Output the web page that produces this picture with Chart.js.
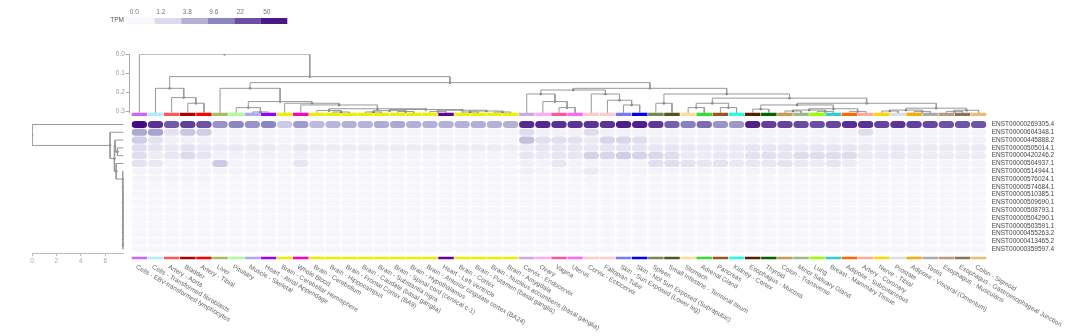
<!DOCTYPE html>
<html>
<head>
<meta charset="utf-8">
<script src="https://cdn.jsdelivr.net/npm/chart.js@4.4.1/dist/chart.umd.min.js"></script>
<style>
  html, body { margin: 0; padding: 0; background: #fff; }
  #wrap { position: relative; width: 1080px; height: 336px; overflow: hidden; }
  canvas { position: absolute; left: 0; top: 0; }
</style>
</head>
<body>
<div id="wrap">
  <canvas id="heat" width="1080" height="336"></canvas>
  <canvas id="colTree" width="1080" height="336"></canvas>
  <canvas id="rowTree" width="1080" height="336"></canvas>
</div>
<script>
// ---- DATA ----
const tissues = [
  'Cells - EBV-transformed lymphocytes', 'Cells - Transformed fibroblasts', 'Artery - Aorta', 'Bladder',
  'Artery - Tibial', 'Liver', 'Pituitary', 'Muscle - Skeletal', 'Heart - Atrial Appendage',
  'Brain - Cerebellar Hemisphere', 'Whole Blood', 'Brain - Cerebellum', 'Brain - Hippocampus',
  'Brain - Frontal Cortex (BA9)', 'Brain - Caudate (basal ganglia)', 'Brain - Substantia nigra',
  'Brain - Spinal cord (cervical c-1)', 'Brain - Hypothalamus', 'Brain - Anterior cingulate cortex (BA24)',
  'Heart - Left Ventricle', 'Brain - Cortex', 'Brain - Putamen (basal ganglia)',
  'Brain - Nucleus accumbens (basal ganglia)', 'Brain - Amygdala', 'Cervix - Endocervix', 'Ovary',
  'Vagina', 'Uterus', 'Cervix - Ectocervix', 'Fallopian Tube', 'Skin - Sun Exposed (Lower leg)',
  'Skin - Not Sun Exposed (Suprapubic)', 'Spleen', 'Small Intestine - Terminal Ileum', 'Stomach',
  'Adrenal Gland', 'Pancreas', 'Kidney - Cortex', 'Esophagus - Mucosa', 'Thyroid', 'Colon - Transverse',
  'Minor Salivary Gland', 'Lung', 'Breast - Mammary Tissue', 'Adipose - Subcutaneous', 'Artery - Coronary',
  'Nerve - Tibial', 'Prostate', 'Adipose - Visceral (Omentum)', 'Testis', 'Esophagus - Muscularis',
  'Esophagus - Gastroesophageal Junction', 'Colon - Sigmoid'
];

const tissueColors = [
  '#CC66FF', '#AAEEFF', '#FF5555', '#AA0000', '#FF0000', '#AABB66', '#AAFF99', '#AAAAFF', '#9900FF',
  '#EEEE00', '#FF00BB', '#EEEE00', '#EEEE00', '#EEEE00', '#EEEE00', '#EEEE00', '#EEEE00', '#EEEE00',
  '#EEEE00', '#660099', '#EEEE00', '#EEEE00', '#EEEE00', '#EEEE00', '#CCAADD', '#FFAAFF', '#FF5599',
  '#FF66FF', '#FFCCCC', '#FFCCCC', '#7777FF', '#0000FF', '#778855', '#555522', '#FFDD99', '#33DD33',
  '#995522', '#22FFDD', '#552200', '#006600', '#CC9955', '#99BB88', '#99FF00', '#33CCCC', '#FF6600',
  '#FFAA99', '#FFD700', '#DDDDDD', '#FFAA00', '#AAAAAA', '#BB9988', '#8B7355', '#EEBB77'
];

const transcripts = [
  'ENST00000269305.4', 'ENST00000604348.1', 'ENST00000445888.2', 'ENST00000505014.1',
  'ENST00000420246.2', 'ENST00000504937.1', 'ENST00000514944.1', 'ENST00000576024.1',
  'ENST00000574684.1', 'ENST00000510385.1', 'ENST00000509690.1', 'ENST00000508793.1',
  'ENST00000504290.1', 'ENST00000503591.1', 'ENST00000455263.2', 'ENST00000413465.2',
  'ENST00000359597.4'
];

// TPM per transcript, in tissue order
const tpm269305 = [70, 35, 18, 28, 21, 7, 9, 7, 9, 2.0,  6, 3.0, 3.4, 3.8, 3.6, 4.2, 4.5, 3.8, 3.8, 3.8,
  3.8, 4.0, 3.8, 3.8, 38, 40, 35, 33, 33, 33,  45, 45, 30, 17, 10, 14, 7, 6.5, 45, 28,
  26, 23, 22, 25, 36, 34, 26, 33, 27, 24,  21, 20, 20];
const tpm604348 = [4.5, 5, 0.8, 2.2, 1.8, 0.1, 0.1, 0.1, 0.1, 0.05,  0.15, 0.05, 0.05, 0.05, 0.05, 0.05, 0.05, 0.05, 0.05, 0.05,
  0.05, 0.05, 0.05, 0.05, 1.0, 0.2, 0.15, 0.15, 1.0, 0.2,  0.15, 0.15, 0.1, 0.1, 0.1, 0.1, 0.05, 0.05, 0.1, 0.1,
  0.1, 0.1, 0.1, 0.1, 0.2, 1.0, 0.1, 0.1, 0.1, 0.1,  0.1, 0.1, 0.1];
const tpm445888 = [1.8, 0.8, 0.2, 0.2, 0.2, 0.1, 0.1, 0.1, 0.1, 0.05,  0.1, 0.05, 0.05, 0.05, 0.05, 0.05, 0.05, 0.05, 0.05, 0.05,
  0.05, 0.05, 0.05, 0.05, 2.6, 0.9, 0.9, 0.8, 0.4, 1.4,  1.4, 1.0, 0.2, 0.2, 0.15, 0.15, 0.1, 0.1, 0.15, 0.15,
  0.15, 0.15, 0.15, 0.15, 0.15, 0.15, 0.15, 0.15, 0.15, 0.15,  0.15, 0.15, 0.15];
const tpm505014 = [1.0, 0.7, 0.5, 0.8, 0.5, 0.4, 0.5, 0.4, 0.4, 0.2,  0.6, 0.3, 0.3, 0.3, 0.3, 0.3, 0.35, 0.3, 0.3, 0.3,
  0.3, 0.3, 0.3, 0.3, 0.4, 0.6, 0.6, 0.6, 0.5, 0.6,  0.7, 0.7, 0.6, 0.6, 0.5, 0.4, 0.4, 0.4, 0.6, 0.6,
  0.6, 0.5, 0.6, 0.6, 0.6, 0.5, 0.4, 0.5, 0.4, 0.4,  0.4, 0.4, 0.4];
const tpm420246 = [1.0, 0.3, 0.6, 1.2, 0.7, 0.15, 0.15, 0.15, 0.15, 0.1,  0.2, 0.1, 0.1, 0.1, 0.1, 0.1, 0.1, 0.1, 0.1, 0.1,
  0.1, 0.1, 0.1, 0.1, 0.6, 0.4, 0.6, 0.6, 1.6, 1.4,  1.8, 1.5, 1.3, 1.0, 0.4, 0.3, 0.5, 0.4, 0.8, 0.9,
  0.7, 1.1, 1.0, 1.0, 1.0, 0.4, 0.4, 0.5, 0.3, 0.3,  0.3, 0.3, 0.3];
const tpm504937 = [0.8, 0.5, 0.1, 0.1, 0.1, 2.0, 0.1, 0.1, 0.1, 0.05,  0.6, 0.05, 0.05, 0.05, 0.05, 0.05, 0.05, 0.05, 0.05, 0.05,
  0.05, 0.05, 0.05, 0.05, 0.2, 0.1, 0.6, 0.1, 0.1, 0.1,  0.1, 0.1, 0.9, 1.0, 0.8, 0.6, 0.8, 0.5, 0.6, 0.6,
  0.7, 0.5, 0.4, 0.7, 0.4, 0.1, 0.1, 0.1, 0.1, 0.1,  0.1, 0.1, 0.1];
const tpm514944 = [0.1, 0.08, 0.08, 0.08, 0.08, 0.08, 0.08, 0.08, 0.08, 0.05,  0.08, 0.05, 0.05, 0.05, 0.05, 0.05, 0.05, 0.05, 0.05, 0.05,
  0.05, 0.05, 0.05, 0.05, 0.2, 0.08, 0.08, 0.08, 0.4, 0.1,  0.1, 0.1, 0.08, 0.08, 0.08, 0.08, 0.05, 0.05, 0.08, 0.08,
  0.08, 0.08, 0.08, 0.08, 0.08, 0.08, 0.08, 0.08, 0.08, 0.08,  0.08, 0.08, 0.08];
const tpm576024 = [0.05, 0.05, 0.05, 0.05, 0.05, 0, 0, 0, 0, 0,  0, 0, 0, 0, 0, 0, 0, 0, 0, 0,
  0, 0, 0, 0, 0.05, 0, 0, 0, 0.05, 0,  0, 0, 0, 0, 0, 0, 0, 0, 0, 0,
  0, 0, 0, 0, 0, 0, 0, 0, 0, 0,  0, 0, 0];
const tpm574684 = [0.05, 0, 0, 0, 0, 0, 0, 0, 0, 0,  0, 0, 0, 0, 0, 0, 0, 0, 0, 0,
  0, 0, 0, 0, 0, 0, 0, 0, 0, 0,  0, 0, 0, 0, 0, 0, 0, 0, 0, 0,
  0, 0, 0, 0, 0, 0, 0, 0, 0, 0,  0, 0, 0];
const tpm510385 = [0, 0, 0, 0, 0, 0, 0, 0, 0, 0,  0, 0, 0, 0, 0, 0, 0, 0, 0, 0,
  0, 0, 0, 0, 0, 0, 0, 0, 0, 0,  0, 0, 0, 0, 0, 0, 0, 0, 0, 0,
  0, 0, 0, 0, 0, 0, 0, 0, 0, 0,  0, 0, 0];
const tpm509690 = [0, 0, 0, 0, 0, 0, 0, 0, 0, 0,  0, 0, 0, 0, 0, 0, 0, 0, 0, 0,
  0, 0, 0, 0, 0, 0, 0, 0, 0, 0,  0, 0, 0, 0, 0, 0, 0, 0, 0, 0,
  0, 0, 0, 0, 0, 0, 0, 0, 0, 0,  0, 0, 0];
const tpm508793 = [0, 0, 0, 0, 0, 0, 0, 0, 0, 0,  0, 0, 0, 0, 0, 0, 0, 0, 0, 0,
  0, 0, 0, 0, 0, 0, 0, 0, 0, 0,  0, 0, 0, 0, 0, 0, 0, 0, 0, 0,
  0, 0, 0, 0, 0, 0, 0, 0, 0, 0,  0, 0, 0];
const tpm504290 = [0, 0, 0, 0, 0, 0, 0, 0, 0, 0,  0, 0, 0, 0, 0, 0, 0, 0, 0, 0,
  0, 0, 0, 0, 0, 0, 0, 0, 0, 0,  0, 0, 0, 0, 0, 0, 0, 0, 0, 0,
  0, 0, 0, 0, 0, 0, 0, 0, 0, 0,  0, 0, 0];
const tpm503591 = [0, 0, 0, 0, 0, 0, 0, 0, 0, 0,  0, 0, 0, 0, 0, 0, 0, 0, 0, 0,
  0, 0, 0, 0, 0, 0, 0, 0, 0, 0,  0, 0, 0, 0, 0, 0, 0, 0, 0, 0,
  0, 0, 0, 0, 0, 0, 0, 0, 0, 0,  0, 0, 0];
const tpm455263 = [0, 0, 0, 0, 0, 0, 0, 0, 0, 0,  0, 0, 0, 0, 0, 0, 0, 0, 0, 0,
  0, 0, 0, 0, 0, 0, 0, 0, 0, 0,  0, 0, 0, 0, 0, 0, 0, 0, 0, 0,
  0, 0, 0, 0, 0, 0, 0, 0, 0, 0,  0, 0, 0];
const tpm413465 = [0, 0, 0, 0, 0, 0, 0, 0, 0, 0,  0, 0, 0, 0, 0, 0, 0, 0, 0, 0,
  0, 0, 0, 0, 0, 0, 0, 0, 0, 0,  0, 0, 0, 0, 0, 0, 0, 0, 0, 0,
  0, 0, 0, 0, 0, 0, 0, 0, 0, 0,  0, 0, 0];
const tpm359597 = [0, 0, 0, 0, 0, 0, 0, 0, 0, 0,  0, 0, 0, 0, 0, 0, 0, 0, 0, 0,
  0, 0, 0, 0, 0, 0, 0, 0, 0, 0,  0, 0, 0, 0, 0, 0, 0, 0, 0, 0,
  0, 0, 0, 0, 0, 0, 0, 0, 0, 0,  0, 0, 0];

const rowValues = [tpm269305, tpm604348, tpm445888, tpm505014, tpm420246, tpm504937, tpm514944,
  tpm576024, tpm574684, tpm510385, tpm509690, tpm508793, tpm504290, tpm503591, tpm455263,
  tpm413465, tpm359597];

// colour scale (TPM)
const legendBreaks = [0.0, 1.2, 3.8, 9.6, 22, 50];
const stopValues = [0, 1.2, 3.8, 9.6, 22, 50, 100];
const stopColors = ['#f7f6fb', '#dcdbed', '#b3b1d6', '#8a84bf', '#6a4fa2', '#4b1887', '#3f007d'];

// column dendrogram: [childA, childB, height]; ids >= 53 are earlier merges
const colMerges = [
  [3, 4, 0.259], [2, 53, 0.229], [1, 54, 0.18],
  [7, 8, 0.305], [6, 56, 0.282],
  [12, 13, 0.305], [11, 58, 0.297], [14, 15, 0.305], [16, 17, 0.303], [60, 61, 0.298],
  [18, 19, 0.302], [20, 21, 0.305], [22, 23, 0.305], [64, 65, 0.3], [63, 66, 0.296],
  [62, 67, 0.292], [59, 68, 0.288], [10, 69, 0.268], [9, 70, 0.259], [57, 71, 0.25],
  [5, 72, 0.18],
  [26, 27, 0.282], [25, 74, 0.25], [24, 75, 0.21], [30, 31, 0.268], [29, 77, 0.243],
  [28, 78, 0.21], [76, 79, 0.189],
  [32, 33, 0.259], [34, 35, 0.282], [36, 37, 0.282], [82, 83, 0.259], [38, 39, 0.29],
  [40, 41, 0.3], [42, 43, 0.302], [86, 87, 0.295], [44, 45, 0.302], [88, 89, 0.288],
  [85, 90, 0.268], [46, 47, 0.3], [48, 49, 0.302], [92, 93, 0.295], [50, 51, 0.302],
  [95, 52, 0.296], [94, 96, 0.285], [91, 97, 0.259], [84, 98, 0.232], [81, 99, 0.21],
  [80, 100, 0.18], [73, 101, 0.15], [55, 102, 0.118], [0, 103, 0.0]
];
const colLeafHeight = 0.31;
const colTreeTicks = [0.0, 0.1, 0.2, 0.3];

// row dendrogram: ids >= 17 are earlier merges
const rowMerges = [
  [15, 16, 7.46], [14, 17, 7.46], [13, 18, 7.46], [12, 19, 7.46], [11, 20, 7.46],
  [10, 21, 7.46], [9, 22, 7.46], [8, 23, 7.46], [7, 24, 7.45], [6, 25, 7.45],
  [5, 26, 6.9], [3, 4, 7.0], [2, 28, 6.8], [29, 27, 6.75], [1, 30, 6.4], [0, 31, 0.0]
];
const rowLeafDist = 7.5;
const rowTreeTicks = [0, 2, 4, 6];

// ---- LAYOUT ----
const W = 1080, H = 336;
const HEAT_LEFT = 131.3, HEAT_RIGHT = 986.7;
const HEAT_TOP = 112.0, HEAT_BOTTOM = 260.2;   // y range -1.6 .. 17.4 (row units)
const Y_MIN = -1.6, Y_MAX = 17.4;
const ROW_PX = (HEAT_BOTTOM - HEAT_TOP) / (Y_MAX - Y_MIN);
const COL_PX = (HEAT_RIGHT - HEAT_LEFT) / tissues.length;
const FONT = '"Liberation Sans", Arial, sans-serif';
const FS = 6.5;

Chart.defaults.font.family = FONT;
Chart.defaults.font.size = FS;

// ---- HELPERS ----
function hexRgb(h) {
  const n = parseInt(h.slice(1), 16);
  return [(n >> 16) & 255, (n >> 8) & 255, n & 255];
}
function tpmColor(v) {
  const t = Math.log1p(v);
  let i = 0;
  while (i < stopValues.length - 2 && t > Math.log1p(stopValues[i + 1])) i++;
  const a = Math.log1p(stopValues[i]), b = Math.log1p(stopValues[i + 1]);
  const f = Math.min(1, Math.max(0, (t - a) / (b - a)));
  const c0 = hexRgb(stopColors[i]), c1 = hexRgb(stopColors[i + 1]);
  const c = c0.map((c, k) => Math.round(c + (c1[k] - c) * f));
  return `rgb(${c[0]},${c[1]},${c[2]})`;
}

function buildTree(merges, nLeaves, leafH, horizontal) {
  const pos = [], hgt = [];
  for (let i = 0; i < nLeaves; i++) { pos[i] = i; hgt[i] = leafH; }
  const lines = [], nodes = [];
  const pt = (p, v) => horizontal ? { x: v, y: p } : { x: p, y: v };
  merges.forEach(([a, b, h], k) => {
    const id = nLeaves + k;
    pos[id] = (pos[a] + pos[b]) / 2;
    hgt[id] = h;
    lines.push(pt(pos[a], hgt[a]), pt(pos[a], h), pt(pos[b], h), pt(pos[b], hgt[b]), { x: NaN, y: NaN });
    nodes.push(pt(pos[id], h));
  });
  return { lines, nodes };
}

// ---- HEATMAP ----
const CELL_HALF = 0.46;
const heatSets = rowValues.map((vals, r) => ({
  data: vals.map(() => [r - CELL_HALF, r + CELL_HALF]),
  backgroundColor: vals.map(tpmColor),
  borderRadius: 3.6,
  borderSkipped: false,
  grouped: false,
  barPercentage: 0.95,
  categoryPercentage: 1
}));
// tissue colour strips above and below
heatSets.push({
  data: tissues.map(() => [-1.51, -1.09]),
  backgroundColor: tissueColors, grouped: false, barPercentage: 0.96, categoryPercentage: 1
});
heatSets.push({
  data: tissues.map(() => [16.95, 17.28]),
  backgroundColor: tissueColors, grouped: false, barPercentage: 0.96, categoryPercentage: 1
});

const extras = {
  id: 'extras',
  afterDraw(chart) {
    const { ctx, scales: { x } } = chart;
    ctx.save();
    ctx.font = `${FS}px ${FONT}`;
    // tissue labels, rotated
    ctx.fillStyle = '#666';
    ctx.textAlign = 'left';
    ctx.textBaseline = 'middle';
    tissues.forEach((t, i) => {
      ctx.save();
      ctx.translate(x.getPixelForValue(i) - 3, 266.5);
      ctx.rotate(Math.PI / 6);
      ctx.fillText(t, 0, 0);
      ctx.restore();
    });
    // colour legend
    const lx = 128.3, ly = 18, lw = 26.5, lh = 6;
    legendBreaks.forEach((v, i) => {
      ctx.fillStyle = tpmColor(v);
      ctx.fillRect(lx + i * lw, ly, lw, lh);
      ctx.fillStyle = '#777';
      ctx.textAlign = 'center';
      ctx.fillText(String(v === 0 ? '0.0' : v), lx + i * lw + 6, 12.5);
    });
    ctx.fillStyle = '#555';
    ctx.textAlign = 'right';
    ctx.fillText('TPM', 124, 20.5);
    ctx.restore();
  }
};

new Chart(document.getElementById('heat'), {
  type: 'bar',
  data: { labels: tissues, datasets: heatSets },
  options: {
    responsive: false, animation: false, events: [],
    layout: { padding: { left: HEAT_LEFT, right: 0, top: HEAT_TOP, bottom: H - HEAT_BOTTOM } },
    scales: {
      x: { type: 'category', display: false },
      y: {
        type: 'linear', position: 'right', reverse: true, min: Y_MIN, max: Y_MAX,
        afterFit: s => { s.width = W - HEAT_RIGHT; },
        afterBuildTicks: s => { s.ticks = transcripts.map((_, i) => ({ value: i })); },
        ticks: { autoSkip: false, padding: 5, color: '#444', callback: v => transcripts[v] },
        grid: { display: false, drawTicks: false, tickLength: 0 }, border: { display: false }
      }
    },
    plugins: { legend: { display: false }, tooltip: { enabled: false } }
  },
  plugins: [extras]
});

// ---- COLUMN DENDROGRAM ----
const colTree = buildTree(colMerges, tissues.length, colLeafHeight, false);
const CT_LEFT = 129.3, CT_TOP = 54.3, CT_BOTTOM = 112.9;
new Chart(document.getElementById('colTree'), {
  type: 'scatter',
  data: {
    datasets: [
      { data: colTree.lines, showLine: true, borderColor: '#999', borderWidth: 1, pointRadius: 0, spanGaps: false },
      { data: colTree.nodes, pointRadius: 1.2, pointBackgroundColor: '#555', pointBorderWidth: 0 }
    ]
  },
  options: {
    responsive: false, animation: false, events: [],
    layout: { padding: { left: CT_LEFT - 20, right: W - HEAT_RIGHT, top: CT_TOP, bottom: H - CT_BOTTOM } },
    scales: {
      x: { type: 'linear', display: false, min: -0.5 - (HEAT_LEFT - CT_LEFT) / COL_PX, max: tissues.length - 0.5 },
      y: {
        type: 'linear', reverse: true, min: 0, max: colLeafHeight,
        afterFit: s => { s.width = 20; },
        afterBuildTicks: s => { s.ticks = colTreeTicks.map(v => ({ value: v })); },
        ticks: { autoSkip: false, padding: 1, color: '#999', callback: v => v.toFixed(1) },
        grid: { drawOnChartArea: false, tickLength: 3.5, color: '#aaa' },
        border: { color: '#aaa' }
      }
    },
    plugins: { legend: { display: false }, tooltip: { enabled: false } }
  }
});

// ---- ROW DENDROGRAM ----
const rowTree = buildTree(rowMerges, transcripts.length, rowLeafDist, true);
const RT_LEFT = 32, RT_RIGHT = 123.5;
const RT_TOP = HEAT_TOP + (-0.5 - Y_MIN) * ROW_PX;
const RT_BOTTOM = HEAT_TOP + (transcripts.length - 0.5 - Y_MIN) * ROW_PX;
new Chart(document.getElementById('rowTree'), {
  type: 'scatter',
  data: {
    datasets: [
      { data: rowTree.lines, showLine: true, borderColor: '#999', borderWidth: 1, pointRadius: 0, spanGaps: false },
      { data: rowTree.nodes, pointRadius: 1.2, pointBackgroundColor: '#555', pointBorderWidth: 0 }
    ]
  },
  options: {
    responsive: false, animation: false, events: [],
    layout: { padding: { left: RT_LEFT, right: W - RT_RIGHT, top: RT_TOP, bottom: H - RT_BOTTOM - 20 } },
    scales: {
      x: {
        type: 'linear', min: 0, max: rowLeafDist,
        afterFit: s => { s.height = 20; },
        afterBuildTicks: s => { s.ticks = rowTreeTicks.map(v => ({ value: v })); },
        ticks: { autoSkip: false, padding: 1, color: '#aaa', maxRotation: 0 },
        grid: { drawOnChartArea: false, tickLength: 3, color: '#bbb' },
        border: { color: '#bbb' }
      },
      y: { type: 'linear', display: false, reverse: true, min: -0.5, max: transcripts.length - 0.5 }
    },
    plugins: { legend: { display: false }, tooltip: { enabled: false } }
  }
});
</script>
</body>
</html>
